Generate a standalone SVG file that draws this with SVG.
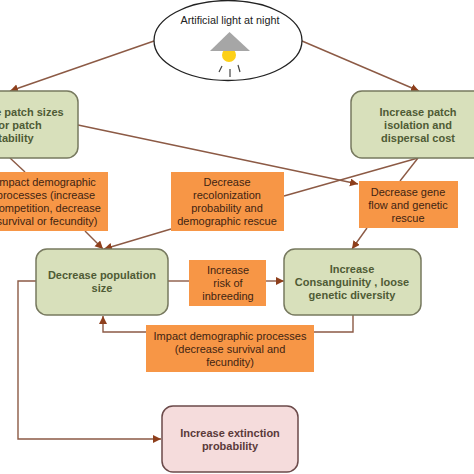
<svg xmlns="http://www.w3.org/2000/svg" width="474" height="474" viewBox="0 0 474 474">
<style>
text{font-family:"Liberation Sans",Arial,sans-serif;text-anchor:middle}
.g rect{fill:#d8e0bb;stroke:#77795f;stroke-width:1.5}
.g text{font-size:11px;font-weight:bold;fill:#4f5b35}
.o rect{fill:#f79646;stroke:none}
.o text{font-size:11px;fill:#3f2412}
.c path{fill:none;stroke:#8c5a45;stroke-width:1.4}
.a{marker-end:url(#ah)}
</style>
<defs><marker id="ah" markerUnits="userSpaceOnUse" markerWidth="9" markerHeight="9" refX="8" refY="4" orient="auto"><path d="M0,0L8,4L0,8Z" fill="#8e3f1c"/></marker></defs>
<rect width="474" height="474" fill="#fff"/>
<g id="connectors" class="c">
<path class="a" d="M154,41L10,91"/>
<path class="a" d="M302,41L419,91"/>
<path class="a" d="M78,125L358,184"/>
<path d="M10,158L25,172"/>
<path class="a" d="M85,231L103,249"/>
<path d="M418,158L284,196"/>
<path class="a" d="M171,229L104,249"/>
<path d="M418,158L400,181"/>
<path class="a" d="M367,228L352,249"/>
<path d="M168,281L189,281"/>
<path class="a" d="M266,281L284,281"/>
<path d="M353,315V332H314"/>
<path class="a" d="M146,332H103V316"/>
<path class="a" d="M36,281H18V439H161"/>
</g>
<g id="light">
<ellipse cx="228" cy="40.500" rx="74" ry="40" fill="#fff" stroke="#222" stroke-width="1.300"/>
<text x="230" y="24" style="font-size:10.800px" fill="#222">Artificial light at night</text>
<circle cx="229" cy="55" r="7" fill="#fdd017"/>
<path d="M229.500,32L250,51H210Z" fill="#a6a6a6"/>
<path d="M222,66L219,72M230,69V77M238,65L240,72" stroke="#444" stroke-width="1.200" fill="none"/>
</g>
<g id="patch-sizes" class="g"><rect x="-56" y="91" width="134" height="67" rx="11"/>
<text x="8" y="115.500">Decrease patch sizes</text><text x="20" y="129">or patch</text><text x="8" y="142">suitability</text></g>
<g id="patch-isolation" class="g"><rect x="351" y="91" width="134" height="67" rx="11"/>
<text x="418" y="115.500">Increase patch</text><text x="418" y="129">isolation and</text><text x="418" y="142">dispersal cost</text></g>
<g id="impact-1" class="o"><rect x="-10" y="172" width="118" height="59"/>
<text x="46" y="186">Impact demographic</text><text x="46" y="199">processes (increase</text><text x="47" y="212">competition, decrease</text><text x="47" y="225">survival or fecundity)</text></g>
<g id="recolonization" class="o"><rect x="171" y="172" width="113" height="59"/>
<text x="227" y="186">Decrease</text><text x="227" y="199">recolonization</text><text x="227" y="212">probability and</text><text x="227" y="225">demographic rescue</text></g>
<g id="gene-flow" class="o"><rect x="359" y="181" width="99" height="47"/>
<text x="408" y="195.500">Decrease gene</text><text x="408" y="209">flow and genetic</text><text x="408" y="222">rescue</text></g>
<g id="population" class="g"><rect x="36" y="249" width="132" height="66" rx="11"/>
<text x="102" y="279">Decrease population</text><text x="102" y="292">size</text></g>
<g id="inbreeding" class="o"><rect x="189" y="260" width="77" height="46"/>
<text x="228" y="274">Increase</text><text x="228" y="287">risk of</text><text x="228" y="300">inbreeding</text></g>
<g id="consanguinity" class="g"><rect x="284" y="249" width="137" height="66" rx="11"/>
<text x="352" y="273">Increase</text><text x="352" y="286">Consanguinity , loose</text><text x="352" y="299">genetic diversity</text></g>
<g id="impact-2" class="o"><rect x="146" y="325" width="168" height="47"/>
<text x="230" y="340">Impact demographic processes</text><text x="230" y="353">(decrease survival and</text><text x="230" y="366">fecundity)</text></g>
<g id="extinction"><rect x="162" y="406" width="136" height="66" rx="11" fill="#f5dcdc" stroke="#6b4a4a" stroke-width="1.500"/>
<text x="230" y="437" style="font-size:11px;font-weight:bold" fill="#5a3a3a">Increase extinction</text><text x="230" y="450" style="font-size:11px;font-weight:bold" fill="#5a3a3a">probability</text></g>
</svg>
